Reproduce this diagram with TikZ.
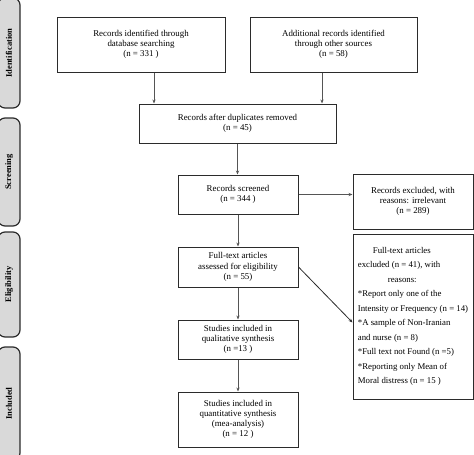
\documentclass[tikz,border=0pt]{standalone}
\usepackage{fontspec}
\setmainfont{Liberation Serif}
\usetikzlibrary{arrows.meta,positioning,calc}
\definecolor{ink}{HTML}{2B2B2B}
\definecolor{arrowgray}{HTML}{555555}
\definecolor{phasegray}{HTML}{D9D9D9}
\tikzset{
  flowbox/.style={draw=ink,fill=white,line width=1pt,
                  align=center,font=\fontsize{8.9}{10.2}\selectfont,inner sep=2pt},
  notebox/.style={draw=ink,fill=white,line width=1pt,
                  align=left,font=\fontsize{8.8}{14.5}\selectfont,inner sep=2pt},
  phasebox/.style={draw=ink,fill=phasegray,line width=1.2pt,rounded corners=7pt,
                   rotate=90,minimum height=22pt,inner sep=0pt,
                   font=\fontsize{8.5}{9}\selectfont\bfseries},
  flowarr/.style={-{Stealth[length=4pt,width=3.2pt]},line width=0.8pt,color=arrowgray}
}

\begin{document}
\begin{tikzpicture}[x=1pt,y=-1pt]
  \useasboundingbox (0,0) rectangle (474,455);
  \clip (0,0) rectangle (474,455);
  % phases on the left
  \node[phasebox,minimum width=110pt] (ident) at (9,53) {Identification};
  \node[phasebox,minimum width=108pt] (scrn) at (9,172) {Screening};
  \node[phasebox,minimum width=105pt] (elig) at (9,284.5) {Eligibility};
  \node[phasebox,minimum width=113pt] (incl) at (9,403.5) {Included};
  % flow boxes
  \node[flowbox,minimum width=168pt,minimum height=55pt] (dbase) at (141,44.5)
    {Records identified through\\database searching\\(n = 331 )};
  \node[flowbox,minimum width=167pt,minimum height=55pt] (other) at (333.5,44.5)
    {Additional records identified\\through other sources\\(n = 58)};
  \node[flowbox,minimum width=197pt,minimum height=39pt] (dupl) at (237.5,123.5)
    {Records after duplicates removed\\(n = 45)};
  \node[flowbox,minimum width=120pt,minimum height=39pt] (screen) at (238,194.5)
    {Records screened\\(n = 344 )};
  \node[flowbox,minimum width=120pt,minimum height=55pt] (excl) at (413,201.5)
    {Records excluded, with\\reasons: irrelevant\\(n = 289)};
  \node[flowbox,minimum width=120pt,minimum height=40pt] (fulltext) at (238,267)
    {Full-text articles\\assessed for eligibility\\(n = 55)};
  \node[notebox,minimum width=120pt,minimum height=165pt] (reasons) at (413,316.5)
    {\hspace*{15pt}Full-text articles\\excluded (n = 41), with\\\hspace*{30pt}reasons:\\
     *Report only one of the\\Intensity or Frequency (n = 14)\\*A sample of Non-Iranian\\
     and nurse (n = 8)\\*Full text not Found (n =5)\\*Reporting only Mean of\\
     Moral distress (n = 15 )};
  \node[flowbox,minimum width=120pt,minimum height=39pt] (qual) at (238,339.5)
    {Studies included in\\qualitative synthesis\\(n =13 )};
  \node[flowbox,minimum width=120pt,minimum height=55pt] (quant) at (238,419.5)
    {Studies included in\\quantitative synthesis\\(mea-analysis)\\(n = 12 )};
  % connectors
  \coordinate (dbout) at ([xshift=13pt]dbase.south);
  \coordinate (otherout) at ([xshift=-11.5pt]other.south);
  \draw[flowarr] (dbout) -- (dbout |- dupl.north);
  \draw[flowarr] (otherout) -- (otherout |- dupl.north);
  \draw[flowarr] (dupl.south) -- (dupl.south |- screen.north);
  \draw[flowarr] (screen.east) -- (screen.east -| excl.west);
  \draw[flowarr] (screen.south) -- (fulltext.north);
  \draw[flowarr,color=ink] (fulltext.east) -- ([yshift=-6pt]reasons.west);
  \draw[flowarr] (fulltext.south) -- (qual.north);
  \draw[flowarr] (qual.south) -- (quant.north);
\end{tikzpicture}
\end{document}
